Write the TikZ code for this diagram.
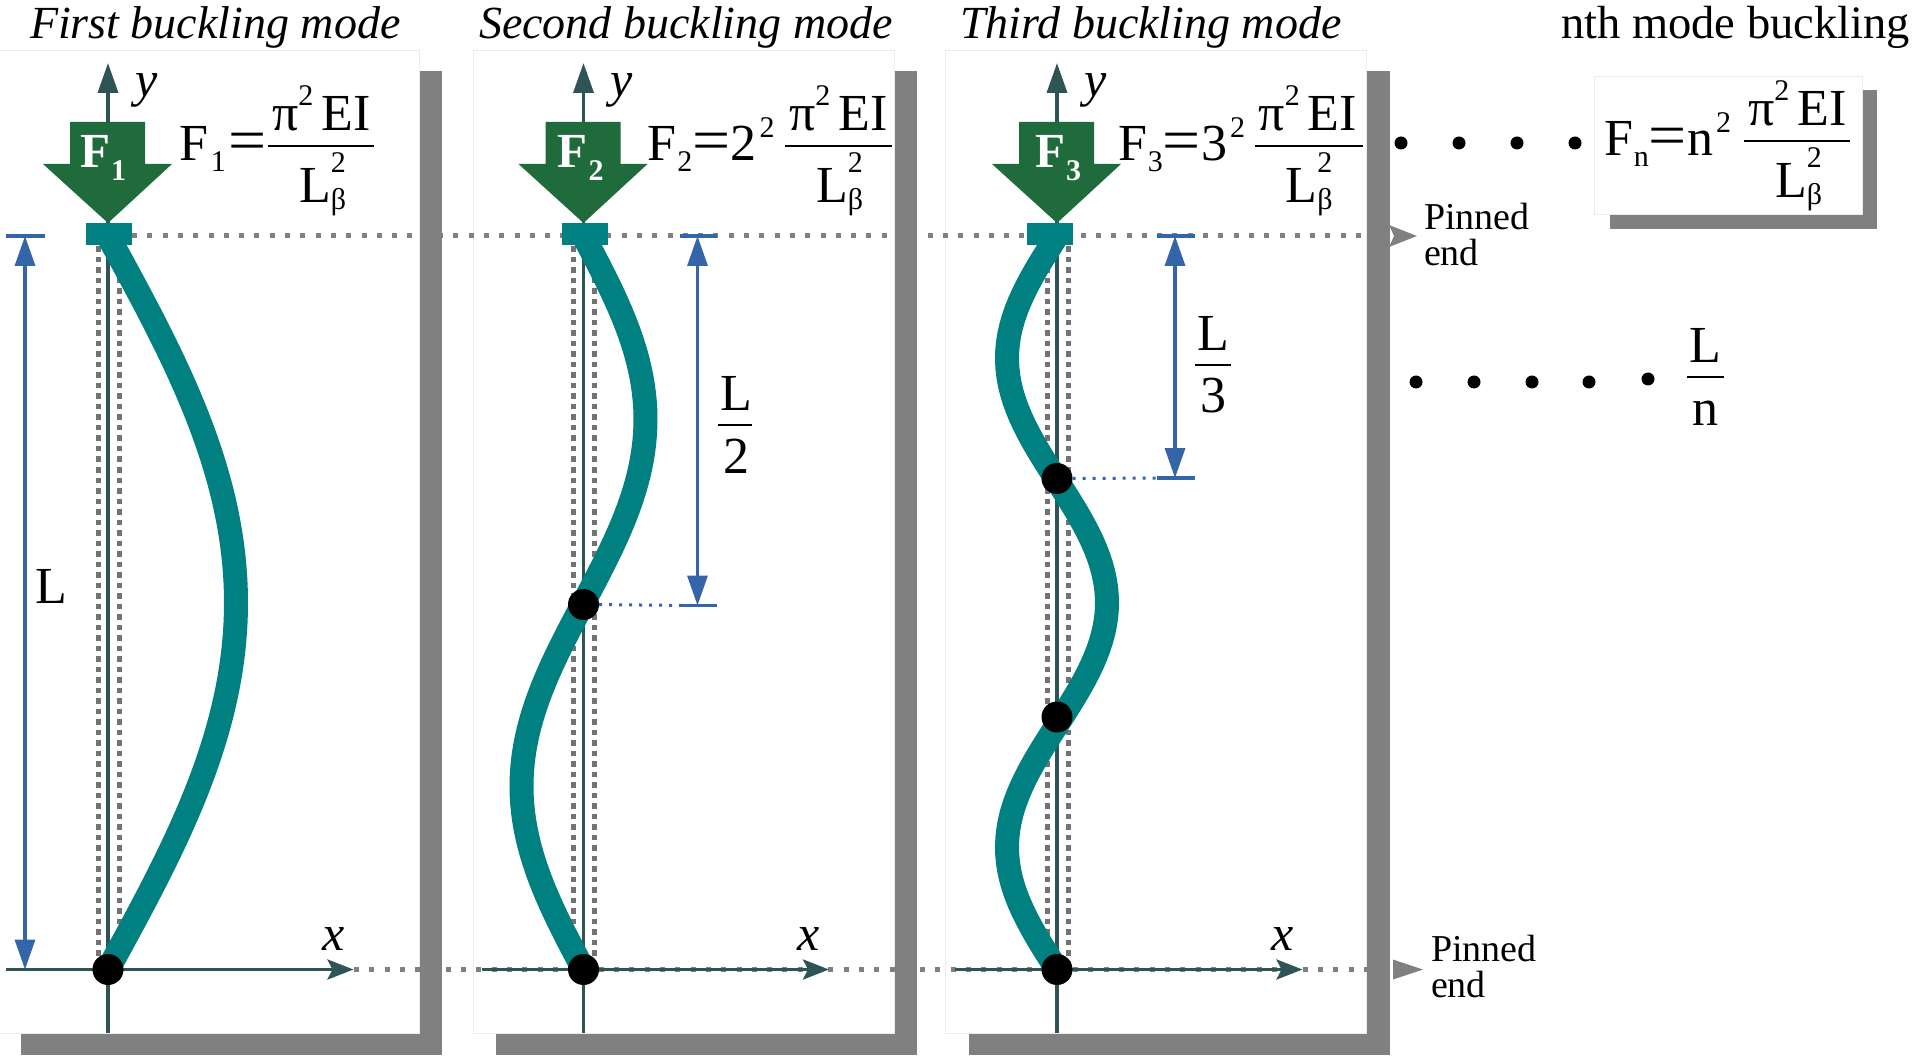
\documentclass[tikz,border=0pt]{standalone}
\usepackage{fontspec}
\setmainfont{Liberation Serif}
\usetikzlibrary{arrows.meta}
\definecolor{beam}{HTML}{008080}
\definecolor{axisc}{HTML}{2F5456}
\definecolor{force}{HTML}{1F6B3C}
\definecolor{dimc}{HTML}{3465A8}
\definecolor{greyc}{HTML}{808080}
\newcommand{\fs}[1]{\fontsize{#1}{#1}\selectfont}
\newcommand{\supraise}[2]{\raisebox{#1pt}{\fs{30}#2}}
\newcommand{\eqs}{\scalebox{1.3}[1.15]{=}}
% fraction pi^2 EI / L_beta^2, #1 bar left, #2 bar right, #3 bar y, #4 name
\newcommand{\frc}[4]{%
  \draw[line width=2.2pt] (#1,#3) -- (#2,#3);
  \node[txt,font=\fs{52}] (#4n) at (#1+4,#3-15) {π\supraise{25}{2}\hspace{8pt}EI};
  \node[txt,font=\fs{52}] (#4d) at (#1+31,#3+57) {L\rlap{\supraise{30}{2}}\raisebox{-7pt}{\fs{30}β}};
}
\tikzset{
  x=1pt,y=-1pt,
  txt/.style={inner sep=0pt,outer sep=0pt,anchor=base west},
  mid/.style={inner sep=0pt,outer sep=0pt,anchor=base},
  panelbox/.style={fill=white,draw=black!8,line width=0.8pt},
  dots/.style={greyc,line width=5pt,dash pattern=on 5pt off 10.3pt},
  guide/.style={greyc!90!black,line width=5pt,dash pattern=on 5.5pt off 5pt},
  ax/.style={axisc,line width=3.6pt},
  dimline/.style={dimc,line width=3.4pt},
  dimarrow/.style={dimline,{Triangle[length=30pt,width=20pt]}-{Triangle[length=30pt,width=20pt]}},
  bluedots/.style={dimc,line width=3pt,dash pattern=on 3pt off 7pt},
  pin/.style={circle,fill=black,inner sep=0pt,minimum size=31pt},
  beamline/.style={beam,line width=24pt}
}
\begin{document}
\begin{tikzpicture}
\useasboundingbox (0,0) rectangle (1920,1056);
% Panels with shadows
\foreach \dx in {0,475,947.5}{
  \fill[greyc] (21+\dx,71) rectangle (442+\dx,1055);
  \draw[panelbox] (-2+\dx,50) rectangle (419+\dx,1033);
}
\fill[greyc] (1610,90) rectangle (1877,229);
\draw[panelbox] (1594,76) rectangle (1862,214);

% Pinned end guides
\draw[dots] (132,236) -- (1389,236);
\draw[dots] (354,969.5) -- (1389,969.5);
\fill[greyc] (1389,225) -- (1417,236) -- (1389,247) -- (1394,236) -- cycle;
\fill[greyc] (1393,959.5) -- (1423,969.5) -- (1393,979.5) -- cycle;

% Common parts
\foreach \n/\dx/\amp/\m/\cp/\fx in {1/108/128/1/0/-28,2/583.5/62/2/0/-26,3/1057/-50/3/-8/-22}{
  \begin{scope}[xshift=\dx pt]
    \coordinate (top\n) at (0,236);
    \coordinate (base\n) at (0,969.5);
    \draw[guide] (-10,236) -- (-10,969.5);
    \draw[guide] (11,236) -- (11,969.5);
    \draw[ax,-{Triangle[length=30pt,width=20pt]}] (0,1033) -- (0,63);
    \draw[ax,-{Stealth[length=26pt,width=20pt,inset=5pt]}] (-102,969.5) -- (245.5,969.5);
    \fill[beam] (-22+\cp,223) rectangle (24+\cp,245);
    \draw[beamline] plot[domain=0:1,samples=90,variable=\t] ({\amp*sin(180*\m*\t)},{236+733.5*\t});
    \fill[force] (-38,122) -- (37,122) -- (37,164) -- (64,164) -- (0,223) -- (-65,164) -- (-38,164) -- cycle;
    \node[txt,white,font=\bfseries\fs{49}] (F\n) at (\fx,168) {F};
    \node[txt,white,font=\bfseries\fs{30}] (Fs\n) at (\fx+31,181) {\n};
    \node[txt,font=\itshape\fs{50}] (y\n) at (27,97) {y};
    \node[txt,font=\itshape\fs{50}] (x\n) at (214,950) {x};
    \node[pin] (pb\n) at (base\n) {};
  \end{scope}
}

% Titles
\node[txt,font=\itshape\fs{46}] (t1) at (30,39) {First buckling mode};
\node[txt,font=\itshape\fs{46}] (t2) at (479,39) {Second buckling mode};
\node[txt,font=\itshape\fs{46}] (t3) at (960,39) {Third buckling mode};
\node[txt,font=\fs{46.5}] (t4) at (1561,39) {nth mode buckling};

% Formulas
\node[txt,font=\fs{52}] (e1) at (179,161) {F\raisebox{-11pt}{\fs{30}\hspace{3pt}1}\hspace{3pt}\eqs};
\frc{268}{374}{146}{a}
\node[txt,font=\fs{52}] (e2) at (647.5,161) {F\raisebox{-11pt}{\fs{30}\hspace{1pt}2}\eqs 2\supraise{23}{\hspace{3pt}2}};
\frc{785}{892}{146}{b}
\node[txt,font=\fs{52}] (e3) at (1118,161) {F\raisebox{-11pt}{\fs{30}\hspace{1pt}3}\eqs 3\supraise{23}{\hspace{3pt}2}};
\frc{1254.5}{1362.5}{146}{c}
\node[txt,font=\fs{52}] (e4) at (1604,156) {F\raisebox{-11pt}{\fs{30}\hspace{1pt}n}\eqs n\supraise{23}{\hspace{3pt}2}};
\frc{1744}{1850}{141}{d}

% Length dimensions
\coordinate (d1a) at (25,236);
\coordinate (d1b) at (25,969.5);
\draw[dimline] (6,236) -- (45,236);
\draw[dimarrow] (d1a) -- (d1b);
\node[mid,font=\fs{52}] (L1) at (51,603) {L};

\node[pin] (m2) at (583.5,604.5) {};
\coordinate (d2a) at (697.5,236);
\coordinate (d2b) at (697.5,605.5);
\draw[dimline] (680,236) -- (717,236);
\draw[dimline] (680,605.5) -- (717,605.5);
\draw[dimarrow] (d2a) -- (d2b);
\draw[bluedots] (m2) -- (d2b);
\node[mid,font=\fs{52}] (L2) at (736,410) {L};
\draw[line width=2.2pt] (718,425) -- (752,425);
\node[mid,font=\fs{52}] (L2n) at (736,473) {2};

\node[pin] (m3) at (1057,478.5) {};
\node[pin] (m4) at (1057,717) {};
\coordinate (d3a) at (1175,236);
\coordinate (d3b) at (1175,478);
\draw[dimline] (1157,236) -- (1195,236);
\draw[dimline] (1157,478) -- (1195,478);
\draw[dimarrow] (d3a) -- (d3b);
\draw[bluedots] (m3) -- (d3b);
\node[mid,font=\fs{52}] (L3) at (1213,351) {L};
\draw[line width=2.2pt] (1195,365) -- (1231,365);
\node[mid,font=\fs{52}] (L3n) at (1213,413) {3};

% Continuation dots
\foreach \px in {1401,1459,1517,1575}{\fill (\px,143) circle (6.5);}
\foreach \px/\py in {1416/382,1474/382,1532/382,1589/382,1648/379}{\fill (\px,\py) circle (6.5);}
\node[mid,font=\fs{52}] (Ln) at (1705,363) {L};
\draw[line width=2.2pt] (1687,377) -- (1724,377);
\node[mid,font=\fs{52}] (Lnn) at (1705,425) {n};

% Pinned end labels
\node[txt,font=\fs{38}] (p1) at (1424,230) {Pinned};
\node[txt,font=\fs{38}] (p2) at (1424,266) {end};
\node[txt,font=\fs{38}] (p3) at (1431,961) {Pinned};
\node[txt,font=\fs{38}] (p4) at (1431,997) {end};
\end{tikzpicture}
\end{document}
